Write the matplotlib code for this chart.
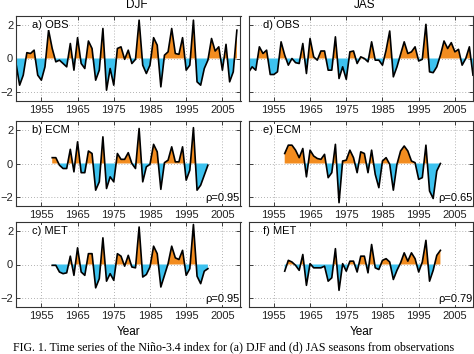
import matplotlib
matplotlib.use('Agg')
import matplotlib.pyplot as plt
import numpy as np

plt.rcParams['font.family'] = ['Liberation Sans', 'DejaVu Sans']

# Nino-3.4 index, years labelled by the first month of the season
djf_obs_years = np.arange(1948, 2010)
djf_obs = [-0.3, -1.6, -1.0, 0.35, 0.3, 0.5, -1.0, -1.3, -0.5, 1.7,
           0.6, -0.2, -0.1, -0.3, -0.5, 0.9, -0.7, 1.25, -0.3, -0.6,
           1.05, 0.6, -1.3, -0.7, 1.8, -1.9, -0.6, -1.6, 0.6, 0.7,
           -0.05, 0.5, -0.3, -0.05, 2.3, -0.4, -0.9, -0.4, 1.25, 0.8,
           -1.7, 0.2, 0.4, 1.8, 0.3, 0.25, 1.25, -0.7, -0.4, 2.3,
           -1.4, -1.6, -0.6, -0.1, 1.2, 0.45, 0.7, -0.7, 0.85, -1.4,
           -0.8, 1.7]

model_years = np.arange(1958, 2002)
djf_ecm = [0.35, 0.35, -0.1, -0.3, -0.3, 0.85, -0.5, 1.3, -0.55, -0.55,
           0.75, 0.6, -1.6, -1.1, 1.6, -1.5, -0.8, -1.1, 0.6, 0.25,
           0.25, 0.65, 0.0, -0.3, 2.1, -1.1, -0.2, -0.05, 1.15, 0.7,
           -1.55, 0.05, 0.2, 1.0, 0.1, 0.1, 1.0, -1.0, -0.4, 2.15,
           -1.6, -1.3, -0.7, -0.1]
djf_met = [-0.05, -0.05, -0.45, -0.55, -0.5, 0.5, -0.65, 1.0, -0.45, -0.65,
           0.65, 0.65, -1.4, -0.85, 1.6, -1.0, -0.55, -0.95, 0.65, 0.5,
           -0.1, 0.55, -0.15, -0.2, 2.25, -0.75, -0.6, -0.15, 1.1, 0.65,
           -1.35, -0.65, 0.05, 1.1, 0.4, 0.3, 0.85, -0.65, -0.25, 2.4,
           -0.7, -1.15, -0.4, -0.25]

jas_obs_years = np.arange(1948, 2011)
jas_obs = [-0.84, -0.5, -0.7, 0.7, 0.3, 0.5, -0.96, -0.96, -0.8, 1.0,
           0.2, -0.4, 0.0, -0.25, -0.3, 0.9, -0.9, 1.2, 0.1, -0.1,
           0.45, 0.45, -0.7, -0.7, 1.3, -1.2, -0.5, -1.25, 0.4, 0.45,
           -0.3, 0.1, 0.0, -0.2, 1.0, -0.1, -0.1, -0.4, 0.5, 1.65,
           -1.1, -0.5, 0.25, 1.0, 0.3, 0.4, 0.7, -0.15, -0.05, 2.05,
           -0.8, -0.85, -0.5, 0.2, 1.05, 0.6, 0.95, 0.4, 0.55, -0.4,
           0.0, 0.7, -1.0]
jas_ecm = [0.6, 1.1, 1.1, 0.8, 0.35, 0.9, -0.8, 0.8, 0.45, 0.3,
           0.25, 0.55, -0.85, -0.55, 1.15, -2.35, 0.15, 0.2, 0.8, 0.35,
           -0.55, 0.7, 0.6, -0.55, 0.8, -0.65, -1.45, 0.15, 0.35, -0.05,
           -1.6, -0.05, 0.75, 1.05, 0.75, 0.15, 0.05, -0.95, -0.85, 1.1,
           -1.65, -2.1, -0.45, 0.0]
jas_met = [-0.4, 0.25, 0.15, -0.05, -0.35, 0.6, -1.25, 0.05, -0.2, -0.2,
           -0.2, -0.1, -1.0, -0.8, 0.95, -1.55, 0.05, -0.4, 0.2, 0.2,
           -0.45, 0.5, 0.5, -0.5, 1.2, -0.2, -0.3, 0.25, 0.35, 0.15,
           -0.9, -0.35, 0.1, 0.7, 0.2, 0.7, 0.35, -0.45, 0.15, 1.45,
           -1.0, -0.35, 0.55, 0.85]

panels = [
    ('a) OBS', djf_obs_years, djf_obs, None),
    ('b) ECM', model_years, djf_ecm, 'ρ=0.95'),
    ('c) MET', model_years, djf_met, 'ρ=0.95'),
    ('d) OBS', jas_obs_years, jas_obs, None),
    ('e) ECM', model_years, jas_ecm, 'ρ=0.65'),
    ('f) MET', model_years, jas_met, 'ρ=0.79'),
]

ORANGE = '#f28c1f'
BLUE = '#3dc2ef'

W, H = 474, 354
fig = plt.figure(figsize=(W / 100, H / 100), dpi=100, facecolor='w')

lefts = [16 / W, 248.5 / W]
width = 224.5 / W
tops = [16, 121, 222]
height = 85 / H

for i, (label, years, vals, rho) in enumerate(panels):
    col, row = divmod(i, 3)
    ax = fig.add_axes([lefts[col], 1 - (tops[row] + 85) / H, width, height])
    years = np.asarray(years, dtype=float)
    vals = np.asarray(vals, dtype=float)
    ax.fill_between(years, vals, 0, where=vals >= 0, interpolate=True,
                    color=ORANGE, linewidth=0)
    ax.fill_between(years, vals, 0, where=vals <= 0, interpolate=True,
                    color=BLUE, linewidth=0)
    ax.plot(years, vals, color='black', linewidth=1.2)
    ax.set_xlim(1948, 2010)
    ax.set_ylim(-2.55, 2.55)
    ax.set_xticks(np.arange(1955, 2006, 10))
    ax.set_yticks([-2, 0, 2])
    ax.grid(True, linestyle=(0, (1, 2.5)), color='#999999', linewidth=0.6)
    ax.set_axisbelow(True)
    ax.tick_params(direction='in', top=True, right=True, length=3, width=0.6,
                   labelsize=8, pad=3, colors='#222222')
    ax.tick_params(axis='y', pad=2)
    if col == 1:
        ax.tick_params(labelleft=False)
    for s in ax.spines.values():
        s.set_linewidth(0.8)
        s.set_color('#333333')
    ax.text(0.07 if col == 0 else 0.065, 0.955, label, transform=ax.transAxes,
            ha='left', va='top', fontsize=8,
            bbox=dict(facecolor='white', edgecolor='none', pad=0.3))
    if rho:
        ax.text(0.997, 0.03, rho, transform=ax.transAxes, ha='right',
                va='bottom', fontsize=8,
                bbox=dict(facecolor='white', edgecolor='none', pad=0.3))
    if row == 2:
        fig.text(lefts[col] + width / 2 + 0.5 / W, 1 - 332 / H, 'Year',
                 ha='center', va='center', fontsize=8.5)

fig.text(137 / W, 1 - 5 / H, 'DJF', ha='center', va='center', fontsize=8.5)
fig.text(365 / W, 1 - 5 / H, 'JAS', ha='center', va='center', fontsize=8.5)

fig.text(13 / W, 1 / H,
         'FIG. 1. Time series of the Niño-3.4 index for (a) DJF and (d) JAS '
         'seasons from observations',
         ha='left', va='bottom', fontsize=8.6, family=['Liberation Serif', 'DejaVu Serif'])

fig.savefig('out.png', dpi=100, facecolor='w')
plt.close()
